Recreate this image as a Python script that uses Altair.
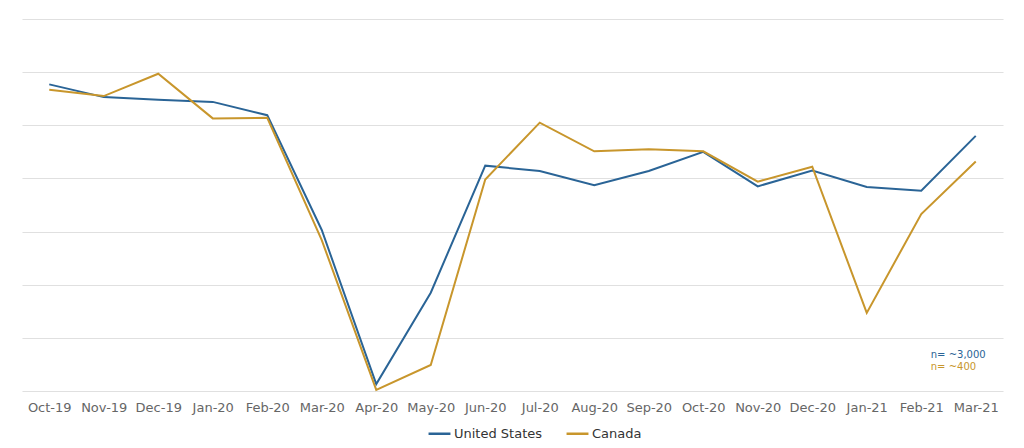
import altair as alt
import pandas as pd

months = ["Oct-19", "Nov-19", "Dec-19", "Jan-20", "Feb-20", "Mar-20", "Apr-20", "May-20",
          "Jun-20", "Jul-20", "Aug-20", "Sep-20", "Oct-20", "Nov-20", "Dec-20", "Jan-21",
          "Feb-21", "Mar-21"]
us = [5.77, 5.53, 5.48, 5.44, 5.19, 3.03, 0.13, 1.85, 4.24, 4.14, 3.87, 4.14, 4.50, 3.85,
      4.15, 3.84, 3.77, 4.80]
canada = [5.67, 5.55, 5.97, 5.13, 5.14, 2.84, 0.02, 0.49, 3.98, 5.05, 4.51, 4.55, 4.51,
          3.94, 4.22, 1.47, 3.33, 4.32]
series = ["United States", "Canada"]
colors = ["#2a6496", "#c8962c"]
n_labels = ["n= ~3,000", "n= ~400"]
n_values = [0.68, 0.46]

rows = []
for name, vals in zip(series, [us, canada]):
    for m, v in zip(months, vals):
        rows.append({"Month": m, "Value": v, "Series": name})
df = pd.DataFrame(rows)

ann = pd.DataFrame({"Month": ["Mar-21", "Mar-21"], "Value": n_values,
                    "Label": n_labels, "Series": series})

FONT = "DejaVu Sans"

x = alt.X("Month:N", sort=months, title=None,
          axis=alt.Axis(labelAngle=0, ticks=False, domain=False, labelPadding=10,
                        labelFont=FONT, labelFontSize=13, labelColor="#666666", grid=False))
y = alt.Y("Value:Q", title=None, scale=alt.Scale(domain=[0, 7], nice=False, zero=True),
          axis=alt.Axis(values=[0, 1, 2, 3, 4, 5, 6, 7], labels=False, ticks=False,
                        domain=False, grid=True, gridColor="#e0e0e0", gridWidth=1.2))
color = alt.Color("Series:N", sort=series, title=None,
                  scale=alt.Scale(domain=series, range=colors),
                  legend=alt.Legend(orient="none", legendX=405, legendY=402,
                                    direction="horizontal", symbolType="stroke",
                                    symbolSize=480, symbolStrokeWidth=2.5,
                                    labelFont=FONT, labelFontSize=13, labelColor="#333333",
                                    labelOffset=2, columnPadding=18))

lines = alt.Chart(df).mark_line(strokeWidth=2).encode(x=x, y=y, color=color)

text = alt.Chart(ann).mark_text(align="left", baseline="middle", font=FONT, fontSize=10,
                                dx=-45).encode(
    x=alt.X("Month:N", sort=months),
    y=alt.Y("Value:Q"),
    text="Label:N",
    color=alt.Color("Series:N", sort=series, scale=alt.Scale(domain=series, range=colors),
                    legend=None),
)

chart = alt.layer(lines, text).properties(
    width=981, height=372,
    background="white",
    autosize=alt.AutoSizeParams(type="none"),
    padding={"left": 14, "top": 11, "right": 13, "bottom": 57},
).configure_view(stroke="transparent", strokeWidth=0)

chart.save("out.html", embed_options={"renderer": "svg", "actions": False})
